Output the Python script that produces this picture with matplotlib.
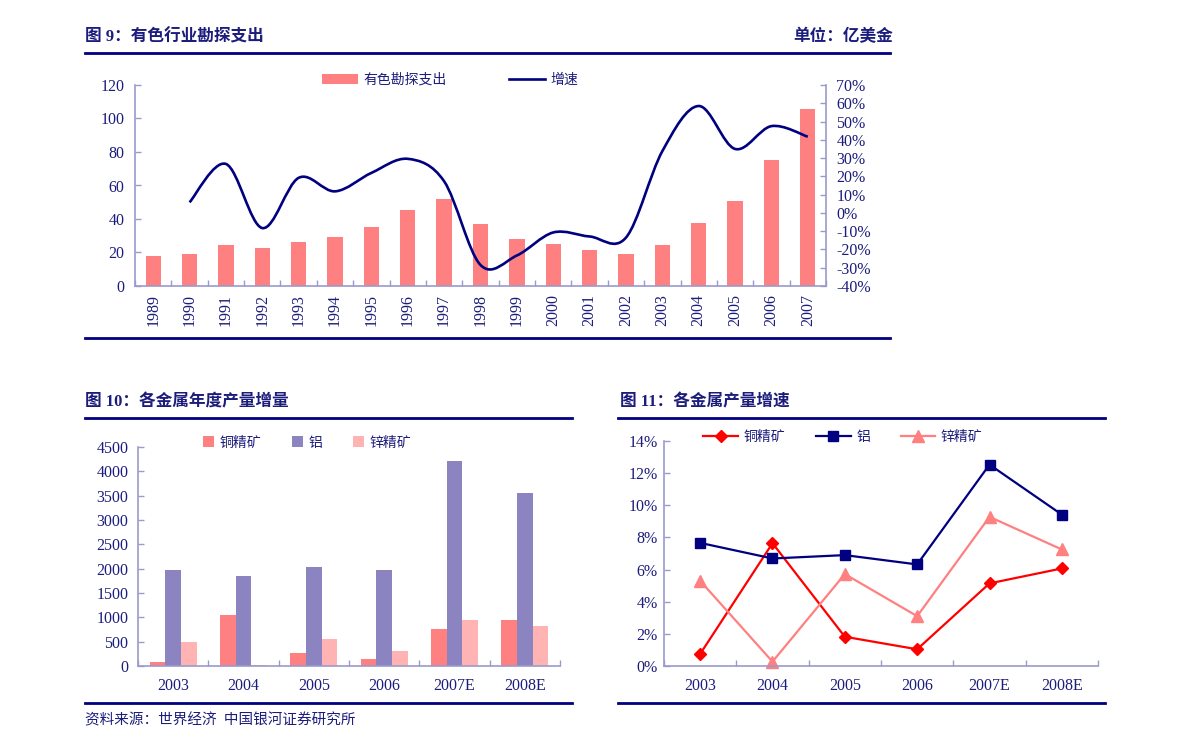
import numpy as np
import matplotlib
matplotlib.use("Agg")
import matplotlib.pyplot as plt
from matplotlib.path import Path
from matplotlib.patches import PathPatch
from matplotlib.lines import Line2D
from matplotlib.ticker import FuncFormatter, MultipleLocator

plt.rcParams['font.family'] = ['Liberation Serif', 'Noto Sans CJK SC']

# ---- data: figure 9 ----
years9 = ['1989', '1990', '1991', '1992', '1993', '1994', '1995', '1996', '1997', '1998',
          '1999', '2000', '2001', '2002', '2003', '2004', '2005', '2006', '2007']
spend = [18, 19.4, 24.4, 22.4, 26.2, 29, 35.5, 45.1, 52, 37.1,
         28, 25, 21.6, 19.2, 24.4, 37.7, 50.5, 75, 105.9]
growth = [None, 0.058, 0.268, -0.083, 0.192, 0.118, 0.219, 0.296, 0.173, -0.285,
          -0.233, -0.107, -0.129, -0.135, 0.338, 0.585, 0.35, 0.475, 0.417]

# ---- data: figure 10 / 11 ----
years10 = ['2003', '2004', '2005', '2006', '2007E', '2008E']
metals = ['铜精矿', '铝', '锌精矿']
output_inc = {
    '铜精矿': [75, 1040, 274, 144, 766, 951],
    '铝': [1970, 1853, 2031, 1970, 4206, 3557],
    '锌精矿': [486, 25, 547, 301, 951, 828],
}
output_growth = {
    '铜精矿': [0.0075, 0.0764, 0.0182, 0.0104, 0.0514, 0.0607],
    '铝': [0.0766, 0.0669, 0.069, 0.0632, 0.1253, 0.0942],
    '锌精矿': [0.053, 0.0027, 0.0572, 0.031, 0.0928, 0.0725],
}

TXT = '#1c1c7c'
NAVY = '#000080'
AXC = '#9a9acc'
SALMON = '#ff8080'

W, H = 1191, 748
fig = plt.figure(figsize=(W / 100, H / 100), dpi=100)


def fx(px):
    return px / W


def fy(py):
    return 1 - py / H


def rule(x0, x1, y):
    fig.add_artist(Line2D([fx(x0), fx(x1)], [fy(y), fy(y)], color=NAVY, lw=2.0,
                          transform=fig.transFigure))


def make_ax(l, t, r, b):
    return fig.add_axes([fx(l), fy(b), fx(r - l), (b - t) / H])


def style_ax(ax, ypad):
    for s in ['top', 'right']:
        ax.spines[s].set_visible(False)
    for s in ['left', 'bottom']:
        ax.spines[s].set_color(AXC)
        ax.spines[s].set_linewidth(1.2)
    ax.tick_params(axis='both', direction='in', color=AXC, labelcolor=TXT, labelsize=11.5,
                   length=4, width=1)
    ax.tick_params(axis='y', pad=ypad)


def cat_ticks(ax, n):
    ax.set_xlim(0, n)
    ax.set_xticks(np.arange(0, n + 1), minor=False)
    ax.set_xticklabels([''] * (n + 1))
    ax.set_xticks(np.arange(n) + 0.5, minor=True)
    ax.tick_params(axis='x', which='minor', length=0)


# ================= figure 9 =================
fig.text(fx(85), fy(37), '图 9：有色行业勘探支出', fontsize=12, fontweight='bold', color=TXT,
         va='center', ha='left')
fig.text(fx(893), fy(37), '单位：亿美金', fontsize=12, fontweight='bold', color=TXT,
         va='center', ha='right')
rule(85, 890, 53)
rule(85, 890, 338)

ax9 = make_ax(135, 85, 826, 286)
style_ax(ax9, 7.5)
n9 = len(years9)
cat_ticks(ax9, n9)
ax9.set_xticklabels(years9, minor=True, rotation=90, color=TXT, fontsize=11.5)
ax9.tick_params(axis='x', which='minor', pad=6)
ax9.set_ylim(0, 120)
ax9.yaxis.set_major_locator(MultipleLocator(20))
xs9 = np.arange(n9) + 0.5
bars = ax9.bar(xs9, spend, width=0.42, color=SALMON, label='有色勘探支出')

ax9r = ax9.twinx()
ax9r.set_ylim(-0.4, 0.7)
ax9r.yaxis.set_major_locator(MultipleLocator(0.1))
ax9r.yaxis.set_major_formatter(FuncFormatter(lambda v, p: '%d%%' % round(v * 100)))
for s in ['top', 'left', 'bottom']:
    ax9r.spines[s].set_visible(False)
ax9r.spines['right'].set_color(AXC)
ax9r.spines['right'].set_linewidth(1.2)
ax9r.tick_params(axis='y', direction='in', color=AXC, labelcolor=TXT, labelsize=11.5,
                 length=4, width=1, pad=7.5)

# smoothed line (Catmull-Rom as cubic Bezier segments)
pts = np.array([(x, g) for x, g in zip(xs9, growth) if g is not None])
verts = [tuple(pts[0])]
codes = [Path.MOVETO]
for i in range(len(pts) - 1):
    p0 = pts[i - 1] if i > 0 else pts[i]
    p1, p2 = pts[i], pts[i + 1]
    p3 = pts[i + 2] if i + 2 < len(pts) else pts[i + 1]
    c1 = p1 + (p2 - p0) / 6
    c2 = p2 - (p3 - p1) / 6
    verts += [tuple(c1), tuple(c2), tuple(p2)]
    codes += [Path.CURVE4] * 3
ax9r.add_patch(PathPatch(Path(verts, codes), fill=False, edgecolor=NAVY, lw=1.9))
line_handle = Line2D([], [], color=NAVY, lw=1.9)

fig.legend([bars, line_handle], ['有色勘探支出', '增速'], ncol=2, frameon=False,
           loc='center', bbox_to_anchor=(fx(450), fy(80)), fontsize=10,
           handlelength=2.6, handleheight=0.8, columnspacing=4.5, handletextpad=0.4,
           labelcolor=TXT)

# ================= figure 10 =================
fig.text(fx(85), fy(402), '图 10：各金属年度产量增量', fontsize=12, fontweight='bold',
         color=TXT, va='center', ha='left')
rule(85, 572, 418)
rule(85, 572, 703)
fig.text(fx(85), fy(720), '资料来源：世界经济  中国银河证券研究所', fontsize=10.5, color=TXT,
         va='center', ha='left')

ax10 = make_ax(138, 447, 560, 666)
style_ax(ax10, 7)
n10 = len(years10)
cat_ticks(ax10, n10)
ax10.set_xticklabels(years10, minor=True, color=TXT, fontsize=11.5)
ax10.tick_params(axis='x', which='minor', pad=9)
ax10.set_ylim(0, 4500)
ax10.yaxis.set_major_locator(MultipleLocator(500))
bar_colors = {'铜精矿': '#ff8080', '铝': '#8c84c0', '锌精矿': '#ffb3b3'}
bw = 0.222
handles10 = []
for k, m in enumerate(metals):
    h = ax10.bar(np.arange(n10) + 0.5 + (k - 1) * bw, output_inc[m], width=bw,
                 color=bar_colors[m], label=m)
    handles10.append(h)
fig.legend(handles10, metals, ncol=3, frameon=False, loc='center',
           bbox_to_anchor=(fx(307), fy(443)), fontsize=10, handlelength=0.8,
           handleheight=0.8, columnspacing=2.2, handletextpad=0.4, labelcolor=TXT)

# ================= figure 11 =================
fig.text(fx(620), fy(402), '图 11：各金属产量增速', fontsize=12, fontweight='bold',
         color=TXT, va='center', ha='left')
rule(618, 1105, 418)
rule(618, 1105, 703)

ax11 = make_ax(664, 441, 1098, 666)
style_ax(ax11, 4.5)
cat_ticks(ax11, n10)
ax11.set_xticklabels(years10, minor=True, color=TXT, fontsize=11.5)
ax11.tick_params(axis='x', which='minor', pad=9)
ax11.set_ylim(0, 0.14)
ax11.yaxis.set_major_locator(MultipleLocator(0.02))
ax11.yaxis.set_major_formatter(FuncFormatter(lambda v, p: '%d%%' % round(v * 100)))
line_styles = {'铜精矿': ('#ff0000', 'D', 6),
               '铝': ('#000080', 's', 6.5),
               '锌精矿': ('#ff8080', '^', 8)}
handles11 = []
for m in metals:
    c, mk, ms = line_styles[m]
    h, = ax11.plot(np.arange(n10) + 0.5, output_growth[m], color=c, marker=mk,
                   markersize=ms, lw=1.6, clip_on=False)
    handles11.append(h)
fig.legend(handles11, metals, ncol=3, frameon=False, loc='center',
           bbox_to_anchor=(fx(843), fy(437)), fontsize=10, handlelength=2.5,
           columnspacing=2.2, handletextpad=0.4, labelcolor=TXT)

fig.savefig('out.png', dpi=100)
